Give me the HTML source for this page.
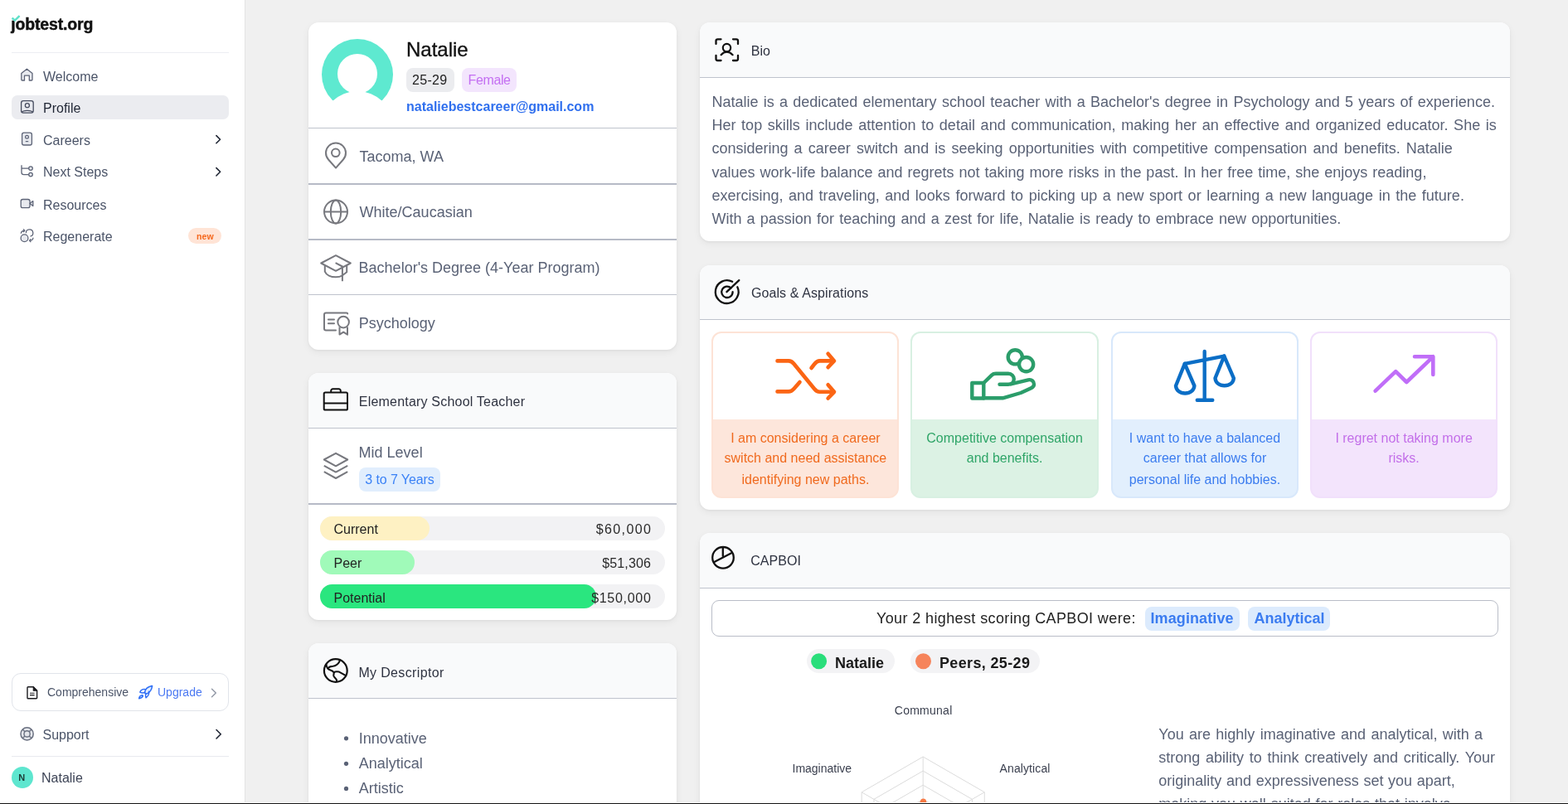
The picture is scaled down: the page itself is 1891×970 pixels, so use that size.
<!DOCTYPE html>
<html><head><meta charset="utf-8"><title>Profile - jobtest.org</title>
<style>
*{margin:0;padding:0;box-sizing:content-box;}
html,body{width:1891px;height:970px;overflow:hidden;background:#f0f0f0;font-family:"Liberation Sans", Arial, sans-serif;}
.t{position:absolute;white-space:nowrap;line-height:1;}
.t.j{white-space:normal;height:1em;overflow:visible;}
.r{position:absolute;}
#ov{position:absolute;left:0;top:0;pointer-events:none;}
#main{position:absolute;left:0;top:0;width:1891px;height:968px;overflow:hidden;}
</style></head><body>
<div id="main">
<div class="r" style="left:0px;top:0px;width:295px;height:968px;background:#fff;"></div>
<div class="r" style="left:295px;top:0px;width:1px;height:968px;background:#e3e3e3;"></div>
<div class="t " style="left:13.2px;top:20.00px;font-size:19.5px;color:#111;font-weight:700;letter-spacing:-0.15px;-webkit-text-stroke:0.45px #111;">jobtest.org</div>
<div class="r" style="left:14px;top:63px;width:262px;height:1px;background:#eceef2;"></div>
<div class="r" style="left:14px;top:115px;width:262px;height:29px;background:#ebecf0;border-radius:7px;"></div>
<div class="t " style="left:52px;top:85.00px;font-size:16px;color:#4b5468;">Welcome</div>
<div class="t " style="left:52px;top:123.00px;font-size:16px;color:#1f2533;">Profile</div>
<div class="t " style="left:52px;top:162.00px;font-size:16px;color:#4b5468;">Careers</div>
<div class="t " style="left:52px;top:200.00px;font-size:16px;color:#4b5468;">Next Steps</div>
<div class="t " style="left:52px;top:240.00px;font-size:16px;color:#4b5468;">Resources</div>
<div class="t " style="left:52px;top:278.00px;font-size:16px;color:#4b5468;">Regenerate</div>
<div class="r" style="left:227px;top:275px;width:40px;height:19px;background:#ffe4d6;border-radius:10px;"></div>
<div class="t " style="left:237px;top:280.00px;font-size:10.5px;color:#f5671c;font-weight:700;letter-spacing:0.1px;">new</div>
<div class="r" style="left:14px;top:812px;width:262px;height:46px;border:1px solid #e1e4ea;border-radius:11px;box-sizing:border-box;"></div>
<div class="t " style="left:57px;top:828.00px;font-size:14px;color:#4b5468;">Comprehensive</div>
<div class="t " style="left:190px;top:828.00px;font-size:14px;color:#4a78f2;">Upgrade</div>
<div class="t " style="left:51.5px;top:879.00px;font-size:16px;color:#4b5468;">Support</div>
<div class="r" style="left:14px;top:912px;width:262px;height:1px;background:#e8eaee;"></div>
<div class="r" style="left:14px;top:925px;width:26px;height:26px;background:#5ee6cf;border-radius:50%;"></div>
<div class="t " style="left:22.2px;top:933.00px;font-size:11px;color:#1d3b36;font-weight:700;">N</div>
<div class="t " style="left:50px;top:931.00px;font-size:16px;color:#3d4456;">Natalie</div>
<div class="r" style="left:372px;top:27px;width:444px;height:395px;background:#fff;border-radius:12px;box-shadow:0 3px 10px rgba(0,0,0,0.055),0 1px 3px rgba(0,0,0,0.05);"></div>
<div class="t " style="left:490px;top:48.00px;font-size:24px;color:#111;-webkit-text-stroke:0.35px #111;">Natalie</div>
<div class="r" style="left:489.5px;top:82px;width:58px;height:29px;background:#ebecef;border-radius:8px;"></div>
<div class="t " style="left:497px;top:89.00px;font-size:16px;color:#222;letter-spacing:0.3px;">25-29</div>
<div class="r" style="left:557.3px;top:82px;width:65.5px;height:29px;background:#f3e5fd;border-radius:8px;"></div>
<div class="t " style="left:564.6px;top:89.00px;font-size:16px;color:#c46ff2;letter-spacing:-0.4px;">Female</div>
<div class="t " style="left:490px;top:121.00px;font-size:16px;color:#2f6fee;font-weight:700;">nataliebestcareer@gmail.com</div>
<div class="r" style="left:372px;top:154px;width:444px;height:1px;background:#bfc3cd;"></div>
<div class="t " style="left:433.6px;top:180.00px;font-size:18px;color:#5a6276;">Tacoma, WA</div>
<div class="r" style="left:372px;top:221px;width:444px;height:2px;background:#b6bac6;"></div>
<div class="t " style="left:433.6px;top:247.00px;font-size:18px;color:#5a6276;">White/Caucasian</div>
<div class="r" style="left:372px;top:288px;width:444px;height:2px;background:#b6bac6;"></div>
<div class="t " style="left:432.6px;top:314.00px;font-size:18px;color:#5a6276;">Bachelor's Degree (4-Year Program)</div>
<div class="r" style="left:372px;top:355px;width:444px;height:1px;background:#bfc3cd;"></div>
<div class="t " style="left:432.7px;top:381.00px;font-size:18px;color:#5a6276;">Psychology</div>
<div class="r" style="left:372px;top:450px;width:444px;height:298px;background:#fff;border-radius:12px;box-shadow:0 3px 10px rgba(0,0,0,0.055),0 1px 3px rgba(0,0,0,0.05);"></div>
<div class="r" style="left:372px;top:450px;width:444px;height:66px;background:#f9fafb;border-radius:12px 12px 0 0;"></div>
<div class="r" style="left:372px;top:516px;width:444px;height:1px;background:#bfc3cd;"></div>
<div class="t " style="left:432.8px;top:477.00px;font-size:16px;color:#2e3240;letter-spacing:0.2px;">Elementary School Teacher</div>
<div class="t " style="left:432.6px;top:537.00px;font-size:18px;color:#5a6276;">Mid Level</div>
<div class="r" style="left:433.2px;top:564px;width:97.4px;height:29px;background:#e1eefd;border-radius:8px;"></div>
<div class="t " style="left:440.3px;top:571.00px;font-size:16px;color:#3b82f6;letter-spacing:-0.1px;">3 to 7 Years</div>
<div class="r" style="left:372px;top:607px;width:444px;height:2px;background:#b6bac6;"></div>
<div class="r" style="left:386.3px;top:623px;width:415.3px;height:29px;background:#f2f2f4;border-radius:15px;"></div>
<div class="r" style="left:386.3px;top:623px;width:132px;height:29px;background:#fef1c3;border-radius:15px;"></div>
<div class="t " style="left:402.5px;top:631.00px;font-size:16px;color:#222;">Current</div>
<div class="t" style="right:1104.8500000000001px;top:631px;font-size:16px;color:#2a2a2a;letter-spacing:1.35px;">$60,000</div>
<div class="r" style="left:386.3px;top:664px;width:415.3px;height:29px;background:#f2f2f4;border-radius:15px;"></div>
<div class="r" style="left:386.3px;top:664px;width:114px;height:29px;background:#a0fab9;border-radius:15px;"></div>
<div class="t " style="left:402.5px;top:672.00px;font-size:16px;color:#222;">Peer</div>
<div class="t" style="right:1106.1000000000001px;top:672px;font-size:16px;color:#2a2a2a;letter-spacing:0.1px;">$51,306</div>
<div class="r" style="left:386.3px;top:705.3px;width:415.3px;height:29px;background:#f2f2f4;border-radius:15px;"></div>
<div class="r" style="left:386.3px;top:705.3px;width:332.5px;height:29px;background:#2ae67f;border-radius:15px;"></div>
<div class="t " style="left:402.5px;top:714.00px;font-size:16px;color:#222;">Potential</div>
<div class="t" style="right:1105.5px;top:714px;font-size:16px;color:#2a2a2a;letter-spacing:0.7px;">$150,000</div>
<div class="r" style="left:372px;top:776px;width:444px;height:260px;background:#fff;border-radius:12px;box-shadow:0 3px 10px rgba(0,0,0,0.055),0 1px 3px rgba(0,0,0,0.05);"></div>
<div class="r" style="left:372px;top:776px;width:444px;height:66px;background:#f9fafb;border-radius:12px 12px 0 0;"></div>
<div class="r" style="left:372px;top:842px;width:444px;height:1px;background:#bfc3cd;"></div>
<div class="t " style="left:432.4px;top:804.00px;font-size:16px;color:#2e3240;letter-spacing:0.35px;">My Descriptor</div>
<div class="t " style="left:432.7px;top:882.00px;font-size:18px;color:#5a6276;">Innovative</div>
<div class="t " style="left:432.7px;top:912.00px;font-size:18px;color:#5a6276;">Analytical</div>
<div class="t " style="left:432.7px;top:942.00px;font-size:18px;color:#5a6276;">Artistic</div>
<div class="r" style="left:844px;top:27px;width:977px;height:264px;background:#fff;border-radius:12px;box-shadow:0 3px 10px rgba(0,0,0,0.055),0 1px 3px rgba(0,0,0,0.05);"></div>
<div class="r" style="left:844px;top:27px;width:977px;height:66px;background:#f9fafb;border-radius:12px 12px 0 0;"></div>
<div class="r" style="left:844px;top:93px;width:977px;height:1px;background:#bfc3cd;"></div>
<div class="t " style="left:905.8px;top:54.00px;font-size:16px;color:#2e3240;">Bio</div>
<div class="t" style="left:858.4px;top:114.00px;font-size:18px;color:#5a6276;letter-spacing:0.0px;word-spacing:1.267px;">Natalie is a dedicated elementary school teacher with a Bachelor's degree in Psychology and 5 years of experience.</div>
<div class="t" style="left:858.4px;top:142.00px;font-size:18px;color:#5a6276;letter-spacing:0.0px;word-spacing:1.722px;">Her top skills include attention to detail and communication, making her an effective and organized educator. She is</div>
<div class="t" style="left:858.4px;top:170.00px;font-size:18px;color:#5a6276;letter-spacing:0.0px;word-spacing:2.155px;">considering a career switch and is seeking opportunities with competitive compensation and benefits. Natalie</div>
<div class="t" style="left:858.4px;top:199.00px;font-size:18px;color:#5a6276;letter-spacing:0.0px;word-spacing:0.976px;">values work-life balance and regrets not taking more risks in the past. In her free time, she enjoys reading,</div>
<div class="t" style="left:858.4px;top:227.00px;font-size:18px;color:#5a6276;letter-spacing:0.0px;word-spacing:1.577px;">exercising, and traveling, and looks forward to picking up a new sport or learning a new language in the future.</div>
<div class="t" style="left:858.4px;top:255.00px;font-size:18px;color:#5a6276;letter-spacing:0.0px;word-spacing:1.219px;">With a passion for teaching and a zest for life, Natalie is ready to embrace new opportunities.</div>
<div class="r" style="left:844px;top:319.5px;width:977px;height:295px;background:#fff;border-radius:12px;box-shadow:0 3px 10px rgba(0,0,0,0.055),0 1px 3px rgba(0,0,0,0.05);"></div>
<div class="r" style="left:844px;top:319.5px;width:977px;height:66px;background:#f9fafb;border-radius:12px 12px 0 0;"></div>
<div class="r" style="left:844px;top:385px;width:977px;height:1px;background:#bfc3cd;"></div>
<div class="t " style="left:905.9px;top:346.00px;font-size:16px;color:#2e3240;letter-spacing:0.1px;">Goals &amp; Aspirations</div>
<div class="r" style="left:857.9px;top:400px;width:226.5px;height:200.6px;border:2px solid #fde3d6;border-radius:12px;box-sizing:border-box;background:linear-gradient(#fff 0,#fff 103.7px,#fde6db 103.7px);"></div>
<div class="t" style="left:858.4px;width:226px;text-align:center;top:521px;font-size:16px;color:#f06a1e;">I am considering a career</div>
<div class="t" style="left:858.4px;width:226px;text-align:center;top:545px;font-size:16px;color:#f06a1e;">switch and need assistance</div>
<div class="t" style="left:858.4px;width:226px;text-align:center;top:571px;font-size:16px;color:#f06a1e;">identifying new paths.</div>
<div class="r" style="left:1098.1px;top:400px;width:226.5px;height:200.6px;border:2px solid #d8f0e2;border-radius:12px;box-sizing:border-box;background:linear-gradient(#fff 0,#fff 103.7px,#dcf2e4 103.7px);"></div>
<div class="t" style="left:1098.6px;width:226px;text-align:center;top:521px;font-size:16px;color:#2fa568;">Competitive compensation</div>
<div class="t" style="left:1098.6px;width:226px;text-align:center;top:545px;font-size:16px;color:#2fa568;">and benefits.</div>
<div class="r" style="left:1339.5px;top:400px;width:226.5px;height:200.6px;border:2px solid #d8e8fb;border-radius:12px;box-sizing:border-box;background:linear-gradient(#fff 0,#fff 103.7px,#e2effd 103.7px);"></div>
<div class="t" style="left:1340px;width:226px;text-align:center;top:521px;font-size:16px;color:#3b7cef;">I want to have a balanced</div>
<div class="t" style="left:1340px;width:226px;text-align:center;top:545px;font-size:16px;color:#3b7cef;">career that allows for</div>
<div class="t" style="left:1340px;width:226px;text-align:center;top:571px;font-size:16px;color:#3b7cef;">personal life and hobbies.</div>
<div class="r" style="left:1579.6px;top:400px;width:226.5px;height:200.6px;border:2px solid #f1e0fb;border-radius:12px;box-sizing:border-box;background:linear-gradient(#fff 0,#fff 103.7px,#f3e4fc 103.7px);"></div>
<div class="t" style="left:1580.1px;width:226px;text-align:center;top:521px;font-size:16px;color:#c36fe9;">I regret not taking more</div>
<div class="t" style="left:1580.1px;width:226px;text-align:center;top:545px;font-size:16px;color:#c36fe9;">risks.</div>
<div class="r" style="left:844px;top:643px;width:977px;height:400px;background:#fff;border-radius:12px;box-shadow:0 3px 10px rgba(0,0,0,0.055),0 1px 3px rgba(0,0,0,0.05);"></div>
<div class="r" style="left:844px;top:643px;width:977px;height:66px;background:#f9fafb;border-radius:12px 12px 0 0;"></div>
<div class="r" style="left:844px;top:709px;width:977px;height:1px;background:#bfc3cd;"></div>
<div class="t " style="left:905.2px;top:669.00px;font-size:16px;color:#2e3240;letter-spacing:0.05px;">CAPBOI</div>
<div class="r" style="left:858.2px;top:724.3px;width:948.6px;height:44px;border:1px solid #b9bdc7;border-radius:9px;box-sizing:border-box;"></div>
<div class="t " style="left:1057px;top:737.00px;font-size:18px;color:#222;letter-spacing:0.38px;">Your 2 highest scoring CAPBOI were:</div>
<div class="r" style="left:1380.5px;top:731.7px;width:114.4px;height:29px;background:#dcebfd;border-radius:8px;"></div>
<div class="t " style="left:1387.5px;top:737.00px;font-size:18px;color:#3b7cf0;font-weight:700;letter-spacing:0.1px;">Imaginative</div>
<div class="r" style="left:1505.3px;top:731.7px;width:98.5px;height:29px;background:#dcebfd;border-radius:8px;"></div>
<div class="t " style="left:1512.4px;top:737.00px;font-size:18px;color:#3b7cf0;font-weight:700;">Analytical</div>
<div class="r" style="left:973px;top:783.4px;width:105.6px;height:28.5px;background:#f3f3f5;border-radius:15px;"></div>
<div class="t " style="left:1007px;top:791.00px;font-size:18px;color:#1a1a1a;font-weight:700;">Natalie</div>
<div class="r" style="left:1097.7px;top:783.4px;width:156.4px;height:28.5px;background:#f3f3f5;border-radius:15px;"></div>
<div class="t " style="left:1133px;top:791.00px;font-size:18px;color:#1a1a1a;font-weight:700;letter-spacing:0.35px;">Peers, 25-29</div>
<div class="t " style="left:1078.8px;top:850.00px;font-size:14px;color:#3a3f4e;letter-spacing:0.25px;">Communal</div>
<div class="t " style="left:955.5px;top:920.00px;font-size:14px;color:#3a3f4e;">Imaginative</div>
<div class="t " style="left:1205.6px;top:920.00px;font-size:14px;color:#3a3f4e;letter-spacing:0.1px;">Analytical</div>
<div class="t" style="left:1397.3px;top:877.00px;font-size:18px;color:#5a6276;letter-spacing:0.0px;word-spacing:1.317px;">You are highly imaginative and analytical, with a</div>
<div class="t" style="left:1397.3px;top:905.00px;font-size:18px;color:#5a6276;letter-spacing:0.0px;word-spacing:1.706px;">strong ability to think creatively and critically. Your</div>
<div class="t" style="left:1397.3px;top:933.00px;font-size:18px;color:#5a6276;letter-spacing:0.0px;word-spacing:0.659px;">originality and expressiveness set you apart,</div>
<div class="t" style="left:1397.3px;top:961.00px;font-size:18px;color:#5a6276;letter-spacing:0.0px;word-spacing:0.721px;">making you well-suited for roles that involve</div>
</div>
<div style="position:absolute;left:0;top:968px;width:1891px;height:1px;background:#fff;"></div>
<div style="position:absolute;left:0;top:969px;width:1891px;height:1px;background:#141414;"></div>
<svg id="ov" width="1891" height="970" viewBox="0 0 1891 970">
<rect x="11.5" y="14" width="10" height="9.6" fill="#fff"/>
<path d="M14.6 21.6 L17.9 24.7 L23.6 19.2" fill="none" stroke="#5ee0c9" stroke-width="2.4"/>
<path d="M25.8 88.5 L32.4 83.2 L39 88.5 V96 a1 1 0 0 1 -1 1 H35.3 V91.2 H29.5 V97 H26.8 a1 1 0 0 1 -1 -1 Z" fill="#e8eaef" stroke="#5d6477" stroke-width="1.3" stroke-linejoin="round"/>
<rect x="25.6" y="121.6" width="14.6" height="14.6" rx="2.6" fill="#e8eaef" stroke="#454b5e" stroke-width="1.3"/>
<circle cx="32.9" cy="127.2" r="2.5" fill="#e8eaef" stroke="#454b5e" stroke-width="1.3"/>
<path d="M26.3 135.6 C27.5 132.5, 38.3 132.5, 39.5 135.6" fill="none" stroke="#454b5e" stroke-width="1.3"/>
<rect x="26.6" y="160.2" width="11.8" height="14.8" rx="2.2" fill="#e8eaef" stroke="#5d6477" stroke-width="1.3"/>
<circle cx="32.5" cy="165.3" r="1.9" fill="none" stroke="#5d6477" stroke-width="1.2"/>
<path d="M30.8 170.6 H34.2" stroke="#5d6477" stroke-width="1.2"/>
<path d="M26 199.3 V208 a2.6 2.6 0 0 0 2.6 2.6 H34.7 M26 203.1 H34.7" fill="none" stroke="#5d6477" stroke-width="1.3"/>
<circle cx="37" cy="203.1" r="2.3" fill="#e8eaef" stroke="#5d6477" stroke-width="1.3"/><circle cx="37" cy="210.6" r="2.3" fill="#e8eaef" stroke="#5d6477" stroke-width="1.3"/>
<rect x="25.2" y="240.5" width="10.8" height="10.2" rx="2.2" fill="#e8eaef" stroke="#5d6477" stroke-width="1.3"/>
<path d="M36 245.6 L39.8 242.6 V248.6 Z" fill="#e8eaef" stroke="#5d6477" stroke-width="1.3" stroke-linejoin="round"/>
<circle cx="29.5" cy="287.3" r="4.4" fill="#e8eaef" stroke="#5d6477" stroke-width="1.3"/>
<path d="M31.4 281.2 A4.2 4.2 0 1 1 36.5 285.1" fill="none" stroke="#5d6477" stroke-width="1.3"/>
<path d="M25.3 281.8 C25.5 279.5, 27 278.3, 29.3 278.3 M28.1 276.5 L29.8 278.3 L28.1 280.1" fill="none" stroke="#5d6477" stroke-width="1.3" stroke-linejoin="round"/>
<path d="M40 286.8 C39.8 289, 38.3 290.3, 36 290.3 M37.3 288.5 L35.6 290.3 L37.3 292.1" fill="none" stroke="#5d6477" stroke-width="1.3" stroke-linejoin="round"/>
<path d="M260.9 163.6 L265.5 168.2 L260.9 172.79999999999998" fill="none" stroke="#1f2533" stroke-width="1.6" stroke-linecap="round" stroke-linejoin="round"/>
<path d="M260.9 202.6 L265.59999999999997 207.29999999999998 L260.9 212.0" fill="none" stroke="#1f2533" stroke-width="1.6" stroke-linecap="round" stroke-linejoin="round"/>
<path d="M33 829.6 a0.8 0.8 0 0 1 0.8 -0.8 H40.3 L44.6 833.2 V842 a0.8 0.8 0 0 1 -0.8 0.8 H33.8 a0.8 0.8 0 0 1 -0.8 -0.8 Z" fill="none" stroke="#1b1b1f" stroke-width="1.4" stroke-linejoin="round"/>
<path d="M40.3 828.8 V833.2 H44.6 Z" fill="#1b1b1f" stroke="#1b1b1f" stroke-width="1.2" stroke-linejoin="round"/><path d="M36 836.2 H41.6 M36 838.6 H41.6" fill="none" stroke="#1b1b1f" stroke-width="1.1"/>
<g fill="none" stroke="#2f6ff5" stroke-width="1.5" stroke-linejoin="round" stroke-linecap="round"><path d="M175 836.8 C174 834, 176 830.5, 179 829 C181 828, 182.5 827.7, 183.6 827.4 C183.4 829, 183 831, 181.8 832.8 C180 835.5, 177.5 837.5, 175 836.8 Z" fill="#e3efff"/><path d="M175.5 831.8 C173 831, 170 832, 168.8 835 C171 836.2, 173.3 836, 174.6 835.2"/><path d="M179.4 834.2 C180.2 836.7, 179 839.5, 176 841.8 C175.3 839.8, 175.4 838, 176 836.8"/><path d="M171.8 838.8 C169.5 839, 168 840.5, 167.6 842.8 C169.8 842.6, 171.8 841.5, 172.4 839.6 Z"/></g>
<path d="M255.5 831.2 L260.3 836.0 L255.5 840.8000000000001" fill="none" stroke="#9097a5" stroke-width="1.4" stroke-linecap="round" stroke-linejoin="round"/>
<circle cx="32.6" cy="885.4" r="7.6" fill="#e4e6eb" stroke="#6a7080" stroke-width="1.5"/>
<circle cx="32.6" cy="885.4" r="3.6" fill="#e4e6eb" stroke="#6a7080" stroke-width="1.4"/>
<path d="M27.2 880 L30 882.8 M38 880 L35.2 882.8 M27.2 890.8 L30 888 M38 890.8 L35.2 888" stroke="#6a7080" stroke-width="1.4"/>
<path d="M261 880.5 L266.25 885.75 L261 891.0" fill="none" stroke="#1f2533" stroke-width="1.6" stroke-linecap="round" stroke-linejoin="round"/>
<clipPath id="avc"><circle cx="431" cy="90" r="43.9"/></clipPath>
<circle cx="431" cy="90" r="43" fill="#5ee9d0"/>
<g clip-path="url(#avc)"><circle cx="431" cy="89" r="24" fill="#fff"/><ellipse cx="431" cy="152" rx="43" ry="42" fill="#fff"/></g>
<path d="M396.06 192.5 A12 12 0 1 1 413.94 192.5 L405 202.6 Z" fill="none" stroke="#77787e" stroke-width="2" stroke-linejoin="round"/>
<circle cx="404.8" cy="184.3" r="4.8" fill="none" stroke="#77787e" stroke-width="2"/>
<circle cx="405" cy="255.5" r="14" fill="none" stroke="#77787e" stroke-width="2"/>
<ellipse cx="405" cy="255.5" rx="6.2" ry="14" fill="none" stroke="#77787e" stroke-width="2"/>
<path d="M391 255.5 H419" stroke="#77787e" stroke-width="2"/>
<path d="M387.2 317.5 L405 308.2 L422.8 317.5 L405 326.8 Z" fill="none" stroke="#77787e" stroke-width="2" stroke-linejoin="round"/>
<path d="M391.8 320 V327.6 C393.5 331.8, 399 334.3, 405 334.3 C408.5 334.3, 411 333.5, 413 332.3 L418.2 328.3 V320" fill="none" stroke="#77787e" stroke-width="2" stroke-linejoin="round"/>
<path d="M404.6 317.2 L412.9 321.5 V339.2" fill="none" stroke="#77787e" stroke-width="2" stroke-linejoin="round"/>
<path d="M419.2 378.6 C419.2 378, 418.8 377.5, 418 377.5 H393 a2 2 0 0 0 -2 2 V396.5 a2 2 0 0 0 2 2 H405" fill="none" stroke="#77787e" stroke-width="2" stroke-linecap="round" stroke-linejoin="round"/>
<path d="M395.9 385.5 H403 M395.9 390.2 H403" stroke="#77787e" stroke-width="2" stroke-linecap="round"/>
<circle cx="414.1" cy="388.6" r="6.8" fill="none" stroke="#77787e" stroke-width="2"/>
<path d="M409.5 394.5 V403.6 L414.2 400.6 L419 403.6 V394.5" fill="none" stroke="#77787e" stroke-width="2" stroke-linejoin="round"/>
<rect x="390.7" y="473.5" width="28.3" height="21.1" rx="1.6" fill="none" stroke="#111" stroke-width="2"/>
<path d="M399.2 473.5 V471.4 a2.2 2.2 0 0 1 2.2 -2.2 H408.6 a2.2 2.2 0 0 1 2.2 2.2 V473.5 M390.7 486.5 H419" fill="none" stroke="#111" stroke-width="2"/>
<path d="M390.8 554.5 L405 546.8 L419.2 554.5 L405 562.3 Z" fill="none" stroke="#77787e" stroke-width="2" stroke-linejoin="round"/>
<path d="M390.8 561.8 L405 569.6 L419.2 561.8 M390.8 569.2 L405 577 L419.2 569.2" fill="none" stroke="#77787e" stroke-width="2" stroke-linejoin="round"/>
<circle cx="404.8" cy="809" r="13.9" fill="none" stroke="#111" stroke-width="2.2"/>
<g fill="none" stroke="#111" stroke-width="2.1" stroke-linejoin="round"><path d="M393.4 801.3 C393.8 805.5, 395.5 807.6, 398.6 808.4 C400.5 809, 401.8 810, 402.6 811.3 C403 812.5, 402 814, 402.4 815.5 C403 817.5, 405.7 818.5, 406 820.5 V822.6"/><path d="M402.6 811.3 C404 810.2, 406.5 810, 409 810.6 L417.6 815.3"/><path d="M395.4 806.4 C396.5 804.8, 398.5 803.8, 401.5 803.7 C404.5 803.5, 407.5 801.5, 409.2 798.5 C409.8 797.5, 409.8 796.5, 409.5 795.4"/></g>
<circle cx="417.5" cy="890.8" r="2.6" fill="#5a6276"/>
<circle cx="417.5" cy="921.3" r="2.6" fill="#5a6276"/>
<circle cx="417.5" cy="951.4" r="2.6" fill="#5a6276"/>
<path d="M863.5 53 V49.3 a2 2 0 0 1 2 -2 H869.5 M884 47.3 H888 a2 2 0 0 1 2 2 V53 M890 67 V71 a2 2 0 0 1 -2 2 H884 M869.5 73 H865.5 a2 2 0 0 1 -2 -2 V67" fill="none" stroke="#111" stroke-width="2.3" stroke-linecap="round"/>
<circle cx="876.5" cy="57.6" r="4.7" fill="none" stroke="#111" stroke-width="2.2"/><path d="M869.6 66.2 C872 63.4, 874 62.6, 876.5 62.6 C879 62.6, 881 63.4, 883.6 66.2" fill="none" stroke="#111" stroke-width="2.2" stroke-linecap="round"/>
<g fill="none" stroke="#111" stroke-width="2.3" stroke-linecap="round"><path d="M889.3 346.2 A13.9 13.9 0 1 1 883.2 339.8"/><path d="M883.6 352.2 A6.7 6.7 0 1 1 881.6 347.5"/><path d="M876.4 352.2 L891.3 338.1"/></g>
<g fill="none" stroke="#fb6514" stroke-width="4.6" stroke-linecap="round" stroke-linejoin="round"><path d="M937.5 435.4 H951 C954 435.4, 955.5 436.5, 957.5 439 L982 469 C984 471.5, 985.5 472.8, 988.5 472.8 H1005"/><path d="M937.5 472.4 H951 C954 472.4, 955.5 471.3, 957.5 469 L964.5 461"/><path d="M978.5 444 L982 439.5 C984 437, 985.5 435.4, 988.5 435.4 H1005"/><path d="M998.6 426.8 L1006 435.4 L998.6 443.2 M998.6 464.2 L1006 472.8 L998.6 480.5"/></g>
<g fill="none" stroke="#2b9d6a" stroke-width="4.4" stroke-linecap="round" stroke-linejoin="round"><circle cx="1224.3" cy="430.8" r="8.6"/><circle cx="1237.6" cy="439.6" r="8.6" fill="#fff"/><path d="M1172.3 462 H1186.3 V480.5 H1172.3 Z"/><path d="M1186.3 462 L1196 452.6 C1197.5 451.2, 1199 450.8, 1201 450.8 H1216 C1220 450.8, 1222.8 454, 1222.8 457.3 C1222.8 461, 1220 463.8, 1216 463.8 H1205.5"/><path d="M1219 463.3 L1240 458.3 C1244.5 457.3, 1247 460.5, 1247 463.7 C1247 466, 1245.5 467.3, 1243 468.5 L1231 474 L1211 479.8 C1210 480.1, 1209 480.3, 1208 480.3 H1186.3"/></g>
<g fill="none" stroke="#0b6ec6" stroke-width="4.4" stroke-linecap="round" stroke-linejoin="round"><path d="M1452.7 424 V482.5 M1443.8 482.8 H1462.3 M1428.8 438.8 L1476.3 429.6"/><path d="M1428.8 438.8 L1418 465.5 C1418.5 471, 1423 474.5, 1429.2 474.5 C1435.4 474.5, 1439.9 471, 1440.4 465.5 Z"/><path d="M1476.3 429.6 L1465.5 456.3 C1466 461.8, 1470.5 465.3, 1476.7 465.3 C1482.9 465.3, 1487.4 461.8, 1487.9 456.3 Z"/></g>
<g fill="none" stroke="#c06ef8" stroke-width="4.6" stroke-linecap="round" stroke-linejoin="round"><path d="M1658.6 471.6 L1683.2 448.2 L1696.3 461 L1728.3 430.3 M1706 430.3 H1728.3 V452"/></g>
<circle cx="872" cy="672.8" r="12.8" fill="none" stroke="#111" stroke-width="2.3"/>
<path d="M871.8 660 V671.5 M860.5 678.6 L883.5 666.5" fill="none" stroke="#111" stroke-width="2.3"/>
<circle cx="987.6" cy="797.7" r="9.5" fill="#2ade7b"/>
<circle cx="1113.5" cy="797.7" r="9.5" fill="#f6845b"/>
<clipPath id="cl"><rect x="844" y="709" width="977" height="259"/></clipPath>
<g clip-path="url(#cl)"><polygon points="1113.20,981.40 1128.01,989.95 1128.01,1007.05 1113.20,1015.60 1098.39,1007.05 1098.39,989.95" fill="none" stroke="#dcdcdc" stroke-width="1"/><polygon points="1113.20,964.30 1142.82,981.40 1142.82,1015.60 1113.20,1032.70 1083.58,1015.60 1083.58,981.40" fill="none" stroke="#dcdcdc" stroke-width="1"/><polygon points="1113.20,947.20 1157.63,972.85 1157.63,1024.15 1113.20,1049.80 1068.77,1024.15 1068.77,972.85" fill="none" stroke="#dcdcdc" stroke-width="1"/><polygon points="1113.20,930.10 1172.44,964.30 1172.44,1032.70 1113.20,1066.90 1053.96,1032.70 1053.96,964.30" fill="none" stroke="#dcdcdc" stroke-width="1"/><polygon points="1113.20,913.00 1187.25,955.75 1187.25,1041.25 1113.20,1084.00 1039.15,1041.25 1039.15,955.75" fill="none" stroke="#dcdcdc" stroke-width="1"/><line x1="1113.2" y1="998.5" x2="1113.20" y2="913.00" stroke="#dcdcdc" stroke-width="1"/><line x1="1113.2" y1="998.5" x2="1187.25" y2="955.75" stroke="#dcdcdc" stroke-width="1"/><line x1="1113.2" y1="998.5" x2="1187.25" y2="1041.25" stroke="#dcdcdc" stroke-width="1"/><line x1="1113.2" y1="998.5" x2="1113.20" y2="1084.00" stroke="#dcdcdc" stroke-width="1"/><line x1="1113.2" y1="998.5" x2="1039.15" y2="1041.25" stroke="#dcdcdc" stroke-width="1"/><line x1="1113.2" y1="998.5" x2="1039.15" y2="955.75" stroke="#dcdcdc" stroke-width="1"/><polygon points="1113.2,966.0 1141.2,982.5 1138.2,1013.5 1113.2,1028.5 1087.2,1012.5 1085.2,982.5" fill="rgba(246,132,91,0.5)" stroke="#f6845b" stroke-width="1.5"/><circle cx="1113.5" cy="967.0" r="3.6" fill="#f77a45"/></g>
</svg>
</body></html>
